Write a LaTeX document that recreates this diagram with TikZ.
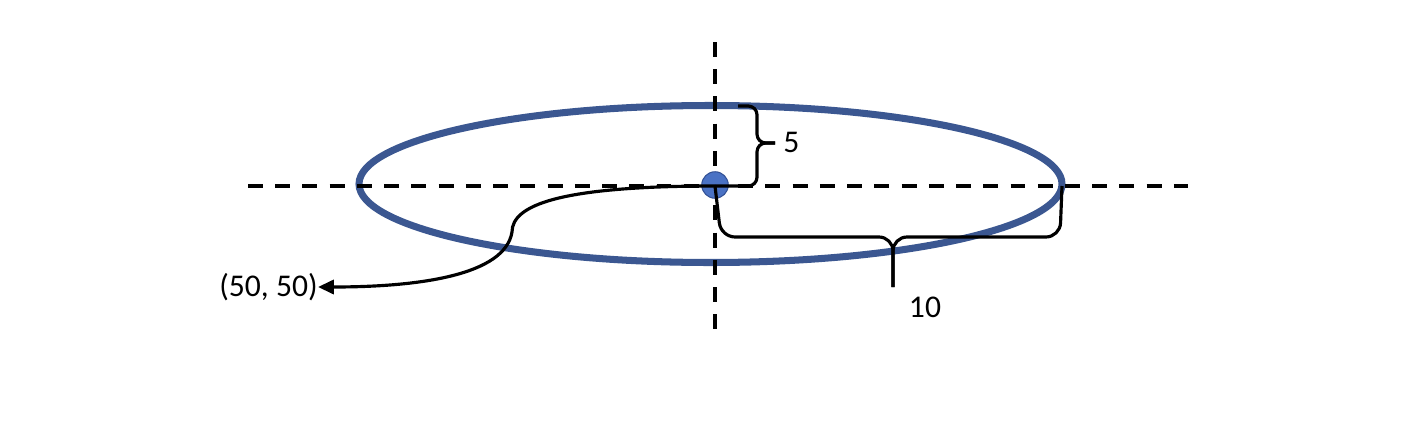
\documentclass[tikz,border=0pt]{standalone}
\usepackage{fontspec}
\setmainfont{Carlito}
\usetikzlibrary{arrows.meta}
\definecolor{ringblue}{RGB}{59,87,145}
\definecolor{dotblue}{RGB}{74,114,196}
\definecolor{dotedge}{RGB}{52,82,150}

\begin{document}
\begin{tikzpicture}[x=0.02cm,y=-0.02cm,
    axis/.style={black,line width=1.9pt,dash pattern=on 8.5pt off 7pt},
    ring/.style={ringblue,line width=4pt},
    bracket/.style={black,line width=1.8pt,line join=round,rounded corners=5},
    lbl/.style={font=\fontsize{18}{21}\selectfont,inner sep=0pt}]
    \useasboundingbox (0,0) rectangle (1426,426);

    % orbit
    \draw[ring] (710.5,184) ellipse [x radius=351.5, y radius=78.5];

    % axes
    \draw[axis] (248,186) -- (1188,186);
    \draw[axis] (715,42) -- (715,335);

    % centre point
    \node[circle,fill=dotblue,draw=dotedge,line width=0.6pt,inner sep=0pt,minimum size=0.53cm] (ctr) at (715,185) {};
    \coordinate (c) at (715,186);

    % labels
    \node[lbl,anchor=west] (five) at (783,142) {5};
    \node[lbl] (ten) at (925,307) {10};
    \node[lbl,anchor=east] (pt) at (318,287) {(50, 50)};

    % brace for 5
    \draw[bracket] (738,106) -- (757,106) -- (757,143) -- (775,143);
    \draw[bracket] (c) -- (757,186) -- (757,143) -- (775,143);

    % brace for 10
    \draw[bracket,rounded corners=8] (c) -- (721,237) -- (893,237) -- (893,287);
    \draw[bracket,rounded corners=8] (1062,186) -- (1060,237) -- (893,237) -- (893,287);

    % pointer to (50, 50)
    \draw[black,line width=1.8pt,-{Triangle[length=9pt,width=8pt]}]
        (c) .. controls (560,186) and (512,205) .. (512,232)
        .. controls (505,275) and (420,287) .. (pt.east);
\end{tikzpicture}
\end{document}
